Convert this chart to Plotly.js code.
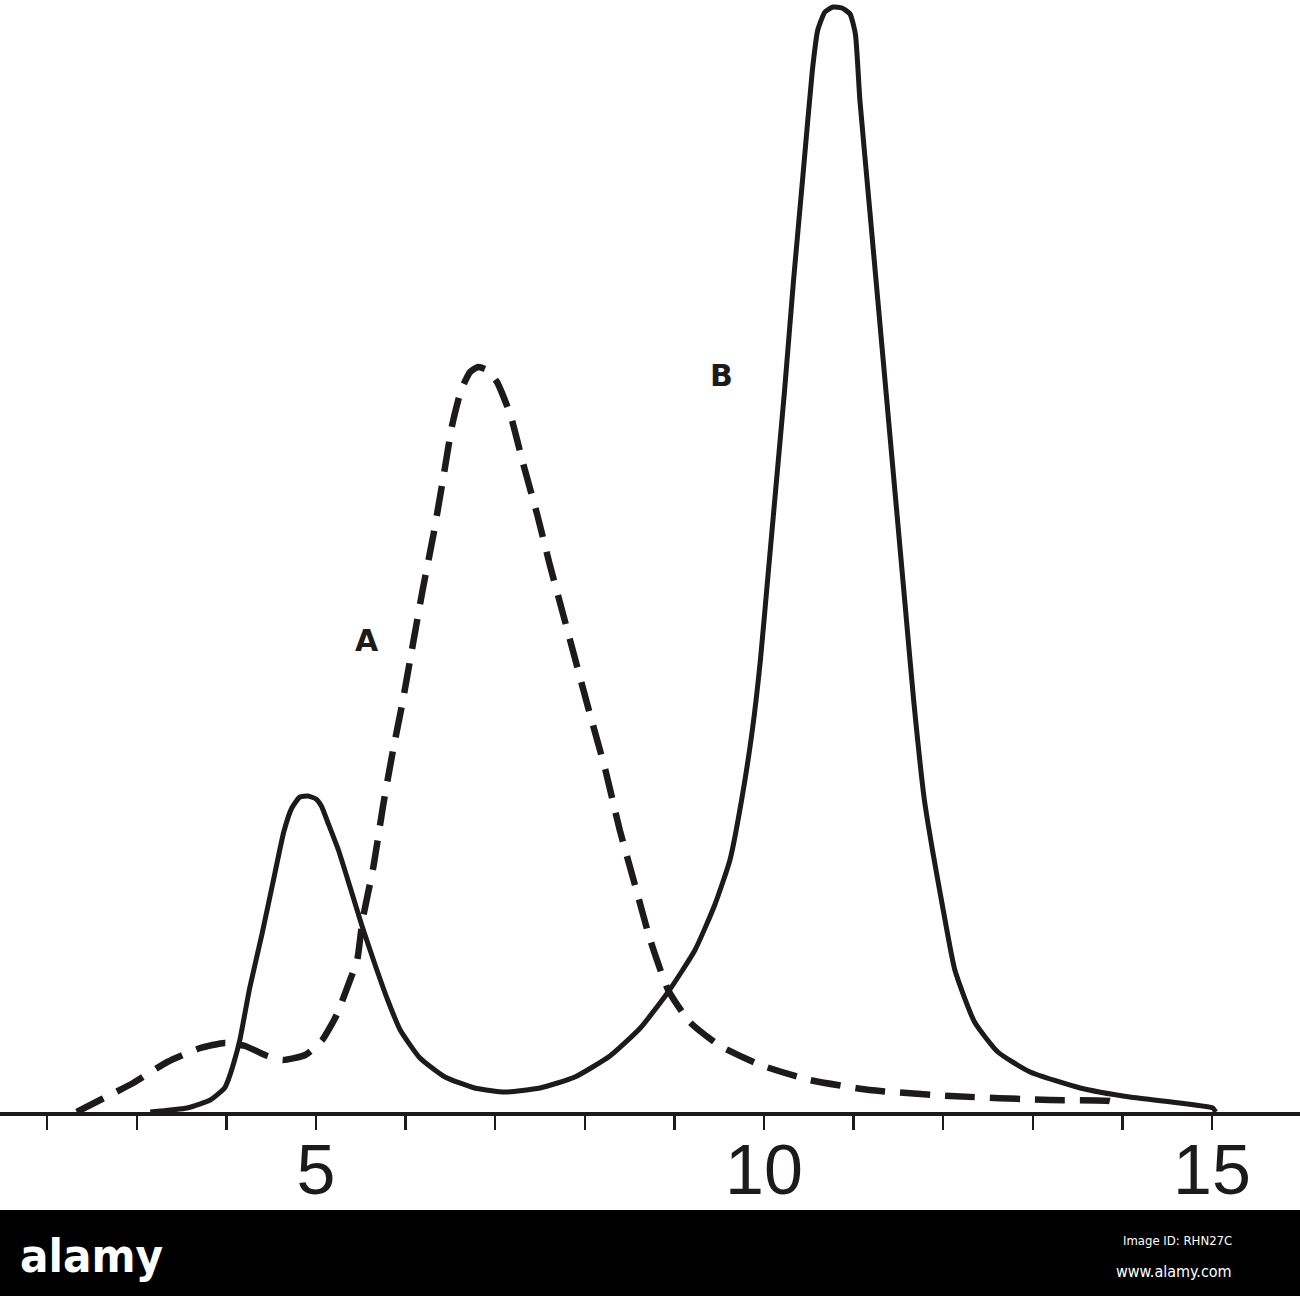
<!DOCTYPE html>
<html>
<head>
<meta charset="utf-8">
<script src="https://cdn.plot.ly/plotly-3.0.1.min.js"></script>
<style>html,body{margin:0;padding:0;background:#fff;}#chart{width:1300px;height:1296px;}</style>
</head>
<body>
<div id="chart"></div>
<script>
// Curve B (solid)
var bX = [3.15,3.56,3.82,3.98,4.02,4.085,4.15,4.26,4.40,4.53,4.64,4.73,4.82,4.91,5.00,5.06,5.13,5.25,5.38,5.51,5.66,5.80,5.94,6.16,6.44,6.77,7.11,7.50,7.89,8.28,8.62,8.93,9.23,9.45,9.62,9.75,9.87,9.96,10.04,10.13,10.23,10.33,10.44,10.54,10.60,10.68,10.77,10.87,10.96,11.02,11.07,11.17,11.27,11.37,11.47,11.57,11.67,11.79,11.88,11.99,12.13,12.35,12.61,12.97,13.53,14.08,14.64,15.01,15.04];
var bY = [0,0.4,1.2,2.4,3.2,5.0,7.2,12.4,17.9,23.4,28.0,30.4,31.5,31.6,31.3,30.6,29.0,26.2,22.5,18.7,14.7,11.2,8.2,5.4,3.5,2.4,2.0,2.4,3.5,5.6,8.4,12.0,16.2,20.7,25.2,31.2,38.2,45.2,53.2,62.2,72.2,83.2,94.2,104.2,108.2,110.0,110.5,110.4,109.8,107.8,101.2,91.2,81.2,71.2,61.2,51.2,41.2,31.2,26.2,20.7,14.2,9.0,6.0,4.0,2.4,1.5,0.9,0.4,0];
// Curve A (dashed)
var aX = [2.33,2.59,2.96,3.34,3.71,3.98,4.21,4.43,4.63,4.88,5.07,5.23,5.38,5.46,5.52,5.64,5.75,5.86,5.96,6.07,6.19,6.31,6.42,6.52,6.62,6.72,6.81,6.91,7.02,7.17,7.31,7.47,7.61,7.76,7.91,8.06,8.23,8.39,8.56,8.73,8.93,9.17,9.51,9.96,10.51,11.18,12.08,13.19,13.86,13.93];
var aY = [0,1.2,2.9,5.0,6.4,6.9,6.6,5.7,5.2,5.7,7.2,9.7,13.2,15.2,19.2,24.5,30.7,36.2,40.7,46.2,52.2,57.7,63.4,68.7,72.2,74.0,74.5,74.2,73.0,69.7,64.9,59.7,54.7,49.7,44.7,39.7,34.2,28.2,22.7,17.2,12.2,9.0,6.6,4.7,3.2,2.2,1.6,1.2,1.1,0.8];
// Axis ticks
var tickVals = [2,3,4,5,6,7,8,9,10,11,12,13,14,15];
var tickText = ["","","","5","","","","","10","","","","","15"];
// Curve labels
var labelText = ["A","B"];
var labelX = [5.57, 9.53];
var labelY = [47.2, 73.7];

var ink = "#1c1a1b";
var traces = [
  {x: aX, y: aY, mode: "lines", type: "scatter", line: {color: ink, width: 6.5, dash: "30px,15px", shape: "spline", smoothing: 0.5}, hoverinfo: "skip"},
  {x: bX, y: bY, mode: "lines", type: "scatter", line: {color: ink, width: 5, shape: "spline", smoothing: 0.5}, hoverinfo: "skip"}
];

var annotations = labelText.map(function(t, i){
  return {x: labelX[i], y: labelY[i], text: "<b>" + t + "</b>", showarrow: false,
          font: {family: "DejaVu Sans", size: 30, color: ink}};
});
var wmFont = "Liberation Sans Narrow, DejaVu Sans Condensed, Liberation Sans, sans-serif";
annotations.push({xref: "paper", yref: "paper", x: 0.014, y: -0.1286, xanchor: "left", yanchor: "middle",
  text: "<b>alamy</b>", showarrow: false, font: {family: wmFont, size: 47, color: "#ffffff"}});
annotations.push({xref: "paper", yref: "paper", x: 0.949, y: -0.1160, xanchor: "right", yanchor: "middle",
  text: "Image ID: RHN27C", showarrow: false, font: {family: wmFont, size: 13, color: "#ffffff"}});
annotations.push({xref: "paper", yref: "paper", x: 0.949, y: -0.1430, xanchor: "right", yanchor: "middle",
  text: "www.alamy.com", showarrow: false, font: {family: wmFont, size: 16, color: "#ffffff"}});

var layout = {
  width: 1300, height: 1296,
  margin: {l: 0, r: 0, t: 0, b: 184, pad: 0},
  paper_bgcolor: "#ffffff", plot_bgcolor: "#ffffff",
  showlegend: false,
  xaxis: {range: [1.4732, 15.9821], showgrid: false, zeroline: false, showline: true, linecolor: ink, linewidth: 4,
          ticks: "outside", ticklen: 14, tickwidth: 2.5, tickcolor: ink,
          tickmode: "array", tickvals: tickVals, ticktext: tickText, ticklabelstandoff: -20,
          tickfont: {family: "Liberation Sans, Arial, sans-serif", size: 70, color: ink}},
  yaxis: {range: [0, 111.2], visible: false, fixedrange: true},
  shapes: [{type: "rect", xref: "paper", yref: "paper", x0: 0, x1: 1, y0: -0.0881, y1: -0.1655, fillcolor: "#000000", line: {width: 0}, layer: "below"}],
  annotations: annotations
};

Plotly.newPlot("chart", traces, layout, {staticPlot: true, displayModeBar: false});
</script>
</body>
</html>
